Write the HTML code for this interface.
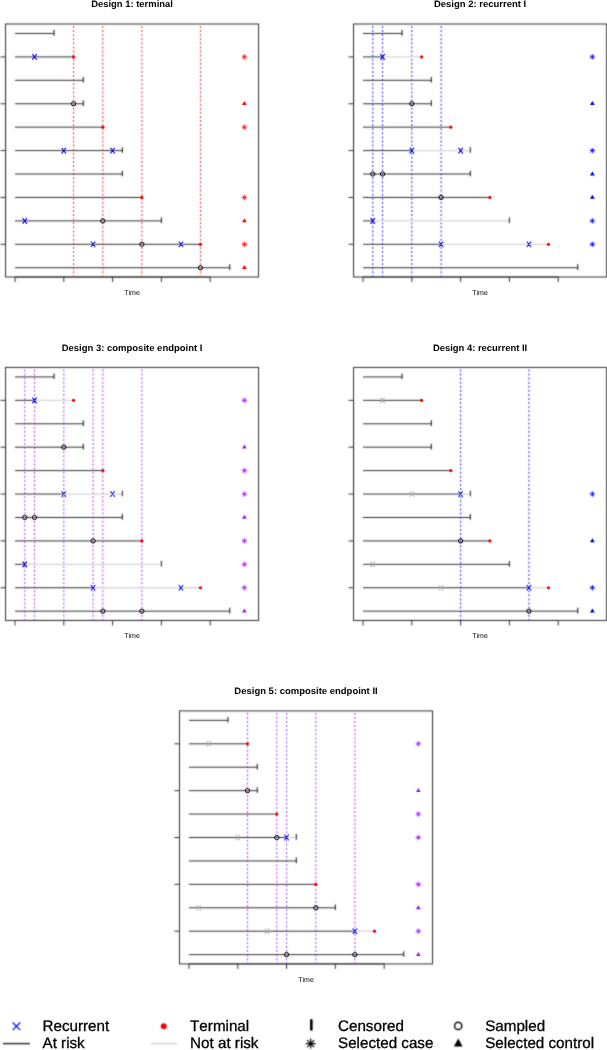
<!DOCTYPE html>
<html><head><meta charset="utf-8"><title>Designs</title>
<style>
html,body{margin:0;padding:0;background:#fff;}
body{width:607px;height:1050px;overflow:hidden;}
svg{display:block;}
.tt{font-family:"Liberation Sans",Arial,sans-serif;font-weight:bold;font-size:9.3px;fill:#000;}
.xl{font-family:"Liberation Sans",Arial,sans-serif;font-size:7.0px;fill:#000;}
.lg{font-family:"Liberation Sans",Arial,sans-serif;font-size:15.2px;fill:#000;stroke:#000;stroke-width:0.3px;}
text{font-kerning:none;text-rendering:geometricPrecision;}
</style></head>
<body>
<svg width="607" height="1050" viewBox="0 0 607 1050">
<defs><filter id="bl" x="0" y="0" width="607" height="1050" filterUnits="userSpaceOnUse"><feConvolveMatrix order="3" kernelMatrix="0.0277 0.1110 0.0277 0.1110 0.4452 0.1110 0.0277 0.1110 0.0277" edgeMode="none" preserveAlpha="false"/></filter><filter id="bm" x="0" y="0" width="607" height="1050" filterUnits="userSpaceOnUse"><feConvolveMatrix order="3" kernelMatrix="0.0052 0.0619 0.0052 0.0619 0.7314 0.0619 0.0052 0.0619 0.0052" edgeMode="none" preserveAlpha="false"/></filter></defs>
<rect width="607" height="1050" fill="#fff"/>
<g filter="url(#bl)">
<rect x="5.55" y="24" width="253" height="253" fill="none" stroke="#333" stroke-width="1.0"/>
<path d="M15 277H210.22M15 277v5M63.8 277v5M112.61 277v5M161.41 277v5M210.22 277v5" stroke="#333" stroke-width="1.0" fill="none"/>
<path d="M5.55 56.9V244.3M5.55 56.9h-5M5.55 103.75h-5M5.55 150.6h-5M5.55 197.45h-5M5.55 244.3h-5" stroke="#333" stroke-width="1.0" fill="none"/>
<path d="M73.57 25.95V277" stroke="#ff0000" stroke-width="1.1" stroke-dasharray="2.0 2.09" opacity="0.78"/>
<path d="M102.85 25.95V277" stroke="#ff0000" stroke-width="1.1" stroke-dasharray="2.0 2.09" opacity="0.78"/>
<path d="M141.89 25.95V277" stroke="#ff0000" stroke-width="1.1" stroke-dasharray="2.0 2.09" opacity="0.78"/>
<path d="M200.46 25.95V277" stroke="#ff0000" stroke-width="1.1" stroke-dasharray="2.0 2.09" opacity="0.78"/>
<path d="M15 33.47H54.04" stroke="#333" stroke-width="1.0"/>
<path d="M54.04 30.07V35.67" stroke="#333" stroke-width="1.2"/>
<path d="M15 56.9H73.57" stroke="#333" stroke-width="1.0"/>
<path d="M15 80.32H83.33" stroke="#333" stroke-width="1.0"/>
<path d="M83.33 76.92V82.52" stroke="#333" stroke-width="1.2"/>
<path d="M15 103.75H83.33" stroke="#333" stroke-width="1.0"/>
<path d="M83.33 100.35V105.95" stroke="#333" stroke-width="1.2"/>
<path d="M15 127.17H102.85" stroke="#333" stroke-width="1.0"/>
<path d="M15 150.6H122.37" stroke="#333" stroke-width="1.0"/>
<path d="M122.37 147.2V152.8" stroke="#333" stroke-width="1.2"/>
<path d="M15 174.03H122.37" stroke="#333" stroke-width="1.0"/>
<path d="M122.37 170.63V176.23" stroke="#333" stroke-width="1.2"/>
<path d="M15 197.45H141.89" stroke="#333" stroke-width="1.0"/>
<path d="M15 220.88H161.41" stroke="#333" stroke-width="1.0"/>
<path d="M161.41 217.48V223.08" stroke="#333" stroke-width="1.2"/>
<path d="M15 244.3H200.46" stroke="#333" stroke-width="1.0"/>
<path d="M15 267.73H229.74" stroke="#333" stroke-width="1.0"/>
<path d="M229.74 264.33V269.93" stroke="#333" stroke-width="1.2"/>
<rect x="353.55" y="24" width="253" height="253" fill="none" stroke="#333" stroke-width="1.0"/>
<path d="M363 277H558.22M363 277v5M411.8 277v5M460.61 277v5M509.41 277v5M558.22 277v5" stroke="#333" stroke-width="1.0" fill="none"/>
<path d="M353.55 56.9V244.3M353.55 56.9h-5M353.55 103.75h-5M353.55 150.6h-5M353.55 197.45h-5M353.55 244.3h-5" stroke="#333" stroke-width="1.0" fill="none"/>
<path d="M372.76 25.95V277" stroke="#0000ff" stroke-width="1.1" stroke-dasharray="2.0 2.09" opacity="0.78"/>
<path d="M382.52 25.95V277" stroke="#0000ff" stroke-width="1.1" stroke-dasharray="2.0 2.09" opacity="0.78"/>
<path d="M411.8 25.95V277" stroke="#0000ff" stroke-width="1.1" stroke-dasharray="2.0 2.09" opacity="0.78"/>
<path d="M441.09 25.95V277" stroke="#0000ff" stroke-width="1.1" stroke-dasharray="2.0 2.09" opacity="0.78"/>
<path d="M363 33.47H402.04" stroke="#333" stroke-width="1.0"/>
<path d="M402.04 30.07V35.67" stroke="#333" stroke-width="1.2"/>
<path d="M363 56.9H382.52" stroke="#333" stroke-width="1.0"/>
<path d="M382.52 56.9H421.57" stroke="#d6d6d6" stroke-width="1.3"/>
<path d="M363 80.32H431.33" stroke="#333" stroke-width="1.0"/>
<path d="M431.33 76.92V82.52" stroke="#333" stroke-width="1.2"/>
<path d="M363 103.75H431.33" stroke="#333" stroke-width="1.0"/>
<path d="M431.33 100.35V105.95" stroke="#333" stroke-width="1.2"/>
<path d="M363 127.17H450.85" stroke="#333" stroke-width="1.0"/>
<path d="M363 150.6H411.8" stroke="#333" stroke-width="1.0"/>
<path d="M411.8 150.6H470.37" stroke="#d6d6d6" stroke-width="1.3"/>
<path d="M470.37 147.2V152.8" stroke="#333" stroke-width="1.2"/>
<path d="M363 174.03H470.37" stroke="#333" stroke-width="1.0"/>
<path d="M470.37 170.63V176.23" stroke="#333" stroke-width="1.2"/>
<path d="M363 197.45H489.89" stroke="#333" stroke-width="1.0"/>
<path d="M363 220.88H372.76" stroke="#333" stroke-width="1.0"/>
<path d="M372.76 220.88H509.41" stroke="#d6d6d6" stroke-width="1.3"/>
<path d="M509.41 217.48V223.08" stroke="#333" stroke-width="1.2"/>
<path d="M363 244.3H441.09" stroke="#333" stroke-width="1.0"/>
<path d="M441.09 244.3H548.46" stroke="#d6d6d6" stroke-width="1.3"/>
<path d="M363 267.73H577.74" stroke="#333" stroke-width="1.0"/>
<path d="M577.74 264.33V269.93" stroke="#333" stroke-width="1.2"/>
<rect x="5.55" y="367.45" width="253" height="253" fill="none" stroke="#333" stroke-width="1.0"/>
<path d="M15 620.45H210.22M15 620.45v5M63.8 620.45v5M112.61 620.45v5M161.41 620.45v5M210.22 620.45v5" stroke="#333" stroke-width="1.0" fill="none"/>
<path d="M5.55 400.35V587.75M5.55 400.35h-5M5.55 447.2h-5M5.55 494.05h-5M5.55 540.9h-5M5.55 587.75h-5" stroke="#333" stroke-width="1.0" fill="none"/>
<path d="M24.76 369.4V620.45" stroke="#a020f0" stroke-width="1.1" stroke-dasharray="2.0 2.09" opacity="0.78"/>
<path d="M34.52 369.4V620.45" stroke="#a020f0" stroke-width="1.1" stroke-dasharray="2.0 2.09" opacity="0.78"/>
<path d="M63.8 369.4V620.45" stroke="#a020f0" stroke-width="1.1" stroke-dasharray="2.0 2.09" opacity="0.78"/>
<path d="M93.09 369.4V620.45" stroke="#a020f0" stroke-width="1.1" stroke-dasharray="2.0 2.09" opacity="0.78"/>
<path d="M102.85 369.4V620.45" stroke="#a020f0" stroke-width="1.1" stroke-dasharray="2.0 2.09" opacity="0.78"/>
<path d="M141.89 369.4V620.45" stroke="#a020f0" stroke-width="1.1" stroke-dasharray="2.0 2.09" opacity="0.78"/>
<path d="M15 376.92H54.04" stroke="#333" stroke-width="1.0"/>
<path d="M54.04 373.52V379.12" stroke="#333" stroke-width="1.2"/>
<path d="M15 400.35H34.52" stroke="#333" stroke-width="1.0"/>
<path d="M34.52 400.35H73.57" stroke="#d6d6d6" stroke-width="1.3"/>
<path d="M15 423.77H83.33" stroke="#333" stroke-width="1.0"/>
<path d="M83.33 420.37V425.97" stroke="#333" stroke-width="1.2"/>
<path d="M15 447.2H83.33" stroke="#333" stroke-width="1.0"/>
<path d="M83.33 443.8V449.4" stroke="#333" stroke-width="1.2"/>
<path d="M15 470.62H102.85" stroke="#333" stroke-width="1.0"/>
<path d="M15 494.05H63.8" stroke="#333" stroke-width="1.0"/>
<path d="M63.8 494.05H122.37" stroke="#d6d6d6" stroke-width="1.3"/>
<path d="M122.37 490.65V496.25" stroke="#333" stroke-width="1.2"/>
<path d="M15 517.48H122.37" stroke="#333" stroke-width="1.0"/>
<path d="M122.37 514.08V519.68" stroke="#333" stroke-width="1.2"/>
<path d="M15 540.9H141.89" stroke="#333" stroke-width="1.0"/>
<path d="M15 564.33H24.76" stroke="#333" stroke-width="1.0"/>
<path d="M24.76 564.33H161.41" stroke="#d6d6d6" stroke-width="1.3"/>
<path d="M161.41 560.93V566.53" stroke="#333" stroke-width="1.2"/>
<path d="M15 587.75H93.09" stroke="#333" stroke-width="1.0"/>
<path d="M93.09 587.75H200.46" stroke="#d6d6d6" stroke-width="1.3"/>
<path d="M15 611.18H229.74" stroke="#333" stroke-width="1.0"/>
<path d="M229.74 607.78V613.38" stroke="#333" stroke-width="1.2"/>
<rect x="353.55" y="367.45" width="253" height="253" fill="none" stroke="#333" stroke-width="1.0"/>
<path d="M363 620.45H558.22M363 620.45v5M411.8 620.45v5M460.61 620.45v5M509.41 620.45v5M558.22 620.45v5" stroke="#333" stroke-width="1.0" fill="none"/>
<path d="M353.55 400.35V587.75M353.55 400.35h-5M353.55 447.2h-5M353.55 494.05h-5M353.55 540.9h-5M353.55 587.75h-5" stroke="#333" stroke-width="1.0" fill="none"/>
<path d="M460.61 369.4V620.45" stroke="#0000ff" stroke-width="1.1" stroke-dasharray="2.0 2.09" opacity="0.78"/>
<path d="M528.93 369.4V620.45" stroke="#0000ff" stroke-width="1.1" stroke-dasharray="2.0 2.09" opacity="0.78"/>
<path d="M363 376.92H402.04" stroke="#333" stroke-width="1.0"/>
<path d="M402.04 373.52V379.12" stroke="#333" stroke-width="1.2"/>
<path d="M363 400.35H421.57" stroke="#333" stroke-width="1.0"/>
<path d="M363 423.77H431.33" stroke="#333" stroke-width="1.0"/>
<path d="M431.33 420.37V425.97" stroke="#333" stroke-width="1.2"/>
<path d="M363 447.2H431.33" stroke="#333" stroke-width="1.0"/>
<path d="M431.33 443.8V449.4" stroke="#333" stroke-width="1.2"/>
<path d="M363 470.62H450.85" stroke="#333" stroke-width="1.0"/>
<path d="M363 494.05H460.61" stroke="#333" stroke-width="1.0"/>
<path d="M460.61 494.05H470.37" stroke="#d6d6d6" stroke-width="1.3"/>
<path d="M470.37 490.65V496.25" stroke="#333" stroke-width="1.2"/>
<path d="M363 517.48H470.37" stroke="#333" stroke-width="1.0"/>
<path d="M470.37 514.08V519.68" stroke="#333" stroke-width="1.2"/>
<path d="M363 540.9H489.89" stroke="#333" stroke-width="1.0"/>
<path d="M363 564.33H509.41" stroke="#333" stroke-width="1.0"/>
<path d="M509.41 560.93V566.53" stroke="#333" stroke-width="1.2"/>
<path d="M363 587.75H528.93" stroke="#333" stroke-width="1.0"/>
<path d="M528.93 587.75H548.46" stroke="#d6d6d6" stroke-width="1.3"/>
<path d="M363 611.18H577.74" stroke="#333" stroke-width="1.0"/>
<path d="M577.74 607.78V613.38" stroke="#333" stroke-width="1.2"/>
<rect x="179.5" y="710.9" width="253" height="253" fill="none" stroke="#333" stroke-width="1.0"/>
<path d="M188.95 963.9H384.17M188.95 963.9v5M237.75 963.9v5M286.56 963.9v5M335.36 963.9v5M384.17 963.9v5" stroke="#333" stroke-width="1.0" fill="none"/>
<path d="M179.5 743.8V931.2M179.5 743.8h-5M179.5 790.65h-5M179.5 837.5h-5M179.5 884.35h-5M179.5 931.2h-5" stroke="#333" stroke-width="1.0" fill="none"/>
<path d="M247.52 712.85V963.9" stroke="#a020f0" stroke-width="1.1" stroke-dasharray="2.0 2.09" opacity="0.78"/>
<path d="M276.8 712.85V963.9" stroke="#a020f0" stroke-width="1.1" stroke-dasharray="2.0 2.09" opacity="0.78"/>
<path d="M286.56 712.85V963.9" stroke="#a020f0" stroke-width="1.1" stroke-dasharray="2.0 2.09" opacity="0.78"/>
<path d="M315.84 712.85V963.9" stroke="#a020f0" stroke-width="1.1" stroke-dasharray="2.0 2.09" opacity="0.78"/>
<path d="M354.88 712.85V963.9" stroke="#a020f0" stroke-width="1.1" stroke-dasharray="2.0 2.09" opacity="0.78"/>
<path d="M188.95 720.37H227.99" stroke="#333" stroke-width="1.0"/>
<path d="M227.99 716.97V722.57" stroke="#333" stroke-width="1.2"/>
<path d="M188.95 743.8H247.52" stroke="#333" stroke-width="1.0"/>
<path d="M188.95 767.22H257.28" stroke="#333" stroke-width="1.0"/>
<path d="M257.28 763.82V769.42" stroke="#333" stroke-width="1.2"/>
<path d="M188.95 790.65H257.28" stroke="#333" stroke-width="1.0"/>
<path d="M257.28 787.25V792.85" stroke="#333" stroke-width="1.2"/>
<path d="M188.95 814.07H276.8" stroke="#333" stroke-width="1.0"/>
<path d="M188.95 837.5H286.56" stroke="#333" stroke-width="1.0"/>
<path d="M286.56 837.5H296.32" stroke="#d6d6d6" stroke-width="1.3"/>
<path d="M296.32 834.1V839.7" stroke="#333" stroke-width="1.2"/>
<path d="M188.95 860.93H296.32" stroke="#333" stroke-width="1.0"/>
<path d="M296.32 857.53V863.13" stroke="#333" stroke-width="1.2"/>
<path d="M188.95 884.35H315.84" stroke="#333" stroke-width="1.0"/>
<path d="M188.95 907.78H335.36" stroke="#333" stroke-width="1.0"/>
<path d="M335.36 904.38V909.98" stroke="#333" stroke-width="1.2"/>
<path d="M188.95 931.2H354.88" stroke="#333" stroke-width="1.0"/>
<path d="M354.88 931.2H374.41" stroke="#d6d6d6" stroke-width="1.3"/>
<path d="M188.95 954.63H403.69" stroke="#333" stroke-width="1.0"/>
<path d="M403.69 951.23V956.83" stroke="#333" stroke-width="1.2"/>
<path d="M16.45 1026.3m-3.8 -3.8l7.6 7.6m0 -7.6l-7.6 7.6" stroke="#0000ff" stroke-width="1.15" fill="none"/>
<path d="M2.9 1043.6H30" stroke="#333" stroke-width="1.5"/>
<circle cx="163.75" cy="1026.3" r="3.0" fill="#ff0000"/>
<path d="M150.7 1043.6H176.9" stroke="#d6d6d6" stroke-width="1.5"/>
<path d="M311.35 1020.4V1029.4" stroke="#000" stroke-width="2.6" stroke-linecap="round"/>
<path d="M305.7 1043.6L315.7 1043.6M307.16 1040.06L314.24 1047.14M310.7 1038.6L310.7 1048.6M314.24 1040.06L307.16 1047.14" stroke="#000" stroke-width="1.2" fill="none"/>
<circle cx="458.2" cy="1025.9" r="3.6" fill="none" stroke="#111" stroke-width="1.5"/>
<path d="M458.25 1038.6L462.6 1046.5L453.9 1046.5Z" fill="#000"/>
</g>
<g filter="url(#bm)">
<path d="M32.57 54.4L36.47 59.4M32.57 59.4L36.47 54.4" stroke="#0000ff" stroke-width="1.05" stroke-linecap="round" fill="none"/>
<circle cx="73.57" cy="56.9" r="1.6" fill="#ff0000"/>
<path d="M241.63 56.9L247.13 56.9M242.43 54.95L246.32 58.84M244.38 54.15L244.38 59.65M246.32 54.95L242.43 58.84" stroke="#ff0000" stroke-width="0.8" fill="none"/>
<circle cx="73.57" cy="103.75" r="2.15" fill="none" stroke="#000" stroke-width="1.0"/>
<path d="M244.38 101.1L246.83 105.1L241.93 105.1Z" fill="#ff0000"/>
<circle cx="102.85" cy="127.17" r="1.6" fill="#ff0000"/>
<path d="M241.63 127.17L247.13 127.17M242.43 125.23L246.32 129.12M244.38 124.42L244.38 129.92M246.32 125.23L242.43 129.12" stroke="#ff0000" stroke-width="0.8" fill="none"/>
<path d="M61.85 148.1L65.75 153.1M61.85 153.1L65.75 148.1" stroke="#0000ff" stroke-width="1.05" stroke-linecap="round" fill="none"/>
<path d="M110.66 148.1L114.56 153.1M110.66 153.1L114.56 148.1" stroke="#0000ff" stroke-width="1.05" stroke-linecap="round" fill="none"/>
<circle cx="141.89" cy="197.45" r="1.6" fill="#ff0000"/>
<path d="M241.63 197.45L247.13 197.45M242.43 195.51L246.32 199.4M244.38 194.7L244.38 200.2M246.32 195.51L242.43 199.4" stroke="#ff0000" stroke-width="0.8" fill="none"/>
<circle cx="102.85" cy="220.88" r="2.15" fill="none" stroke="#000" stroke-width="1.0"/>
<path d="M22.81 218.38L26.71 223.38M22.81 223.38L26.71 218.38" stroke="#0000ff" stroke-width="1.05" stroke-linecap="round" fill="none"/>
<path d="M244.38 218.23L246.83 222.23L241.93 222.23Z" fill="#ff0000"/>
<circle cx="141.89" cy="244.3" r="2.15" fill="none" stroke="#000" stroke-width="1.0"/>
<path d="M91.14 241.8L95.04 246.8M91.14 246.8L95.04 241.8" stroke="#0000ff" stroke-width="1.05" stroke-linecap="round" fill="none"/>
<path d="M178.98 241.8L182.88 246.8M178.98 246.8L182.88 241.8" stroke="#0000ff" stroke-width="1.05" stroke-linecap="round" fill="none"/>
<circle cx="200.46" cy="244.3" r="1.6" fill="#ff0000"/>
<path d="M241.63 244.3L247.13 244.3M242.43 242.36L246.32 246.25M244.38 241.55L244.38 247.05M246.32 242.36L242.43 246.25" stroke="#ff0000" stroke-width="0.8" fill="none"/>
<circle cx="200.46" cy="267.73" r="2.15" fill="none" stroke="#000" stroke-width="1.0"/>
<path d="M244.38 265.08L246.83 269.08L241.93 269.08Z" fill="#ff0000"/>
<path d="M380.57 54.4L384.47 59.4M380.57 59.4L384.47 54.4" stroke="#0000ff" stroke-width="1.05" stroke-linecap="round" fill="none"/>
<circle cx="421.57" cy="56.9" r="1.6" fill="#ff0000"/>
<path d="M589.63 56.9L595.13 56.9M590.43 54.95L594.32 58.84M592.38 54.15L592.38 59.65M594.32 54.95L590.43 58.84" stroke="#0000ff" stroke-width="0.8" fill="none"/>
<circle cx="411.8" cy="103.75" r="2.15" fill="none" stroke="#000" stroke-width="1.0"/>
<path d="M592.38 101.1L594.83 105.1L589.93 105.1Z" fill="#0000ff"/>
<circle cx="450.85" cy="127.17" r="1.6" fill="#ff0000"/>
<path d="M409.85 148.1L413.75 153.1M409.85 153.1L413.75 148.1" stroke="#0000ff" stroke-width="1.05" stroke-linecap="round" fill="none"/>
<path d="M458.66 148.1L462.56 153.1M458.66 153.1L462.56 148.1" stroke="#0000ff" stroke-width="1.05" stroke-linecap="round" fill="none"/>
<path d="M589.63 150.6L595.13 150.6M590.43 148.66L594.32 152.54M592.38 147.85L592.38 153.35M594.32 148.66L590.43 152.54" stroke="#0000ff" stroke-width="0.8" fill="none"/>
<circle cx="372.76" cy="174.03" r="2.15" fill="none" stroke="#000" stroke-width="1.0"/>
<circle cx="382.52" cy="174.03" r="2.15" fill="none" stroke="#000" stroke-width="1.0"/>
<path d="M592.38 171.38L594.83 175.38L589.93 175.38Z" fill="#0000ff"/>
<circle cx="441.09" cy="197.45" r="2.15" fill="none" stroke="#000" stroke-width="1.0"/>
<circle cx="489.89" cy="197.45" r="1.6" fill="#ff0000"/>
<path d="M592.38 194.8L594.83 198.8L589.93 198.8Z" fill="#0000ff"/>
<path d="M370.81 218.38L374.71 223.38M370.81 223.38L374.71 218.38" stroke="#0000ff" stroke-width="1.05" stroke-linecap="round" fill="none"/>
<path d="M589.63 220.88L595.13 220.88M590.43 218.93L594.32 222.82M592.38 218.13L592.38 223.63M594.32 218.93L590.43 222.82" stroke="#0000ff" stroke-width="0.8" fill="none"/>
<path d="M439.14 241.8L443.04 246.8M439.14 246.8L443.04 241.8" stroke="#0000ff" stroke-width="1.05" stroke-linecap="round" fill="none"/>
<path d="M526.98 241.8L530.88 246.8M526.98 246.8L530.88 241.8" stroke="#0000ff" stroke-width="1.05" stroke-linecap="round" fill="none"/>
<circle cx="548.46" cy="244.3" r="1.6" fill="#ff0000"/>
<path d="M589.63 244.3L595.13 244.3M590.43 242.36L594.32 246.25M592.38 241.55L592.38 247.05M594.32 242.36L590.43 246.25" stroke="#0000ff" stroke-width="0.8" fill="none"/>
<path d="M32.57 397.85L36.47 402.85M32.57 402.85L36.47 397.85" stroke="#0000ff" stroke-width="1.05" stroke-linecap="round" fill="none"/>
<circle cx="73.57" cy="400.35" r="1.6" fill="#ff0000"/>
<path d="M241.63 400.35L247.13 400.35M242.43 398.4L246.32 402.29M244.38 397.6L244.38 403.1M246.32 398.4L242.43 402.29" stroke="#a020f0" stroke-width="0.8" fill="none"/>
<circle cx="63.8" cy="447.2" r="2.15" fill="none" stroke="#000" stroke-width="1.0"/>
<path d="M244.38 444.55L246.83 448.55L241.93 448.55Z" fill="#a020f0"/>
<circle cx="102.85" cy="470.62" r="1.6" fill="#ff0000"/>
<path d="M241.63 470.62L247.13 470.62M242.43 468.68L246.32 472.57M244.38 467.87L244.38 473.37M246.32 468.68L242.43 472.57" stroke="#a020f0" stroke-width="0.8" fill="none"/>
<path d="M61.85 491.55L65.75 496.55M61.85 496.55L65.75 491.55" stroke="#0000ff" stroke-width="1.05" stroke-linecap="round" fill="none"/>
<path d="M110.66 491.55L114.56 496.55M110.66 496.55L114.56 491.55" stroke="#0000ff" stroke-width="1.05" stroke-linecap="round" fill="none"/>
<path d="M241.63 494.05L247.13 494.05M242.43 492.11L246.32 495.99M244.38 491.3L244.38 496.8M246.32 492.11L242.43 495.99" stroke="#a020f0" stroke-width="0.8" fill="none"/>
<circle cx="24.76" cy="517.48" r="2.15" fill="none" stroke="#000" stroke-width="1.0"/>
<circle cx="34.52" cy="517.48" r="2.15" fill="none" stroke="#000" stroke-width="1.0"/>
<path d="M244.38 514.83L246.83 518.83L241.93 518.83Z" fill="#a020f0"/>
<circle cx="93.09" cy="540.9" r="2.15" fill="none" stroke="#000" stroke-width="1.0"/>
<circle cx="141.89" cy="540.9" r="1.6" fill="#ff0000"/>
<path d="M241.63 540.9L247.13 540.9M242.43 538.96L246.32 542.85M244.38 538.15L244.38 543.65M246.32 538.96L242.43 542.85" stroke="#a020f0" stroke-width="0.8" fill="none"/>
<path d="M22.81 561.83L26.71 566.83M22.81 566.83L26.71 561.83" stroke="#0000ff" stroke-width="1.05" stroke-linecap="round" fill="none"/>
<path d="M241.63 564.33L247.13 564.33M242.43 562.38L246.32 566.27M244.38 561.58L244.38 567.08M246.32 562.38L242.43 566.27" stroke="#a020f0" stroke-width="0.8" fill="none"/>
<path d="M91.14 585.25L95.04 590.25M91.14 590.25L95.04 585.25" stroke="#0000ff" stroke-width="1.05" stroke-linecap="round" fill="none"/>
<path d="M178.98 585.25L182.88 590.25M178.98 590.25L182.88 585.25" stroke="#0000ff" stroke-width="1.05" stroke-linecap="round" fill="none"/>
<circle cx="200.46" cy="587.75" r="1.6" fill="#ff0000"/>
<path d="M241.63 587.75L247.13 587.75M242.43 585.81L246.32 589.7M244.38 585L244.38 590.5M246.32 585.81L242.43 589.7" stroke="#a020f0" stroke-width="0.8" fill="none"/>
<circle cx="102.85" cy="611.18" r="2.15" fill="none" stroke="#000" stroke-width="1.0"/>
<circle cx="141.89" cy="611.18" r="2.15" fill="none" stroke="#000" stroke-width="1.0"/>
<path d="M244.38 608.53L246.83 612.53L241.93 612.53Z" fill="#a020f0"/>
<path d="M380.57 397.85L384.47 402.85M380.57 402.85L384.47 397.85" stroke="#b4b4b4" stroke-width="1.05" stroke-linecap="round" fill="none"/>
<circle cx="421.57" cy="400.35" r="1.6" fill="#ff0000"/>
<circle cx="450.85" cy="470.62" r="1.6" fill="#ff0000"/>
<path d="M409.85 491.55L413.75 496.55M409.85 496.55L413.75 491.55" stroke="#b4b4b4" stroke-width="1.05" stroke-linecap="round" fill="none"/>
<path d="M458.66 491.55L462.56 496.55M458.66 496.55L462.56 491.55" stroke="#0000ff" stroke-width="1.05" stroke-linecap="round" fill="none"/>
<path d="M589.63 494.05L595.13 494.05M590.43 492.11L594.32 495.99M592.38 491.3L592.38 496.8M594.32 492.11L590.43 495.99" stroke="#0000ff" stroke-width="0.8" fill="none"/>
<circle cx="460.61" cy="540.9" r="2.15" fill="none" stroke="#000" stroke-width="1.0"/>
<circle cx="489.89" cy="540.9" r="1.6" fill="#ff0000"/>
<path d="M592.38 538.25L594.83 542.25L589.93 542.25Z" fill="#0000ff"/>
<path d="M370.81 561.83L374.71 566.83M370.81 566.83L374.71 561.83" stroke="#b4b4b4" stroke-width="1.05" stroke-linecap="round" fill="none"/>
<path d="M439.14 585.25L443.04 590.25M439.14 590.25L443.04 585.25" stroke="#b4b4b4" stroke-width="1.05" stroke-linecap="round" fill="none"/>
<path d="M526.98 585.25L530.88 590.25M526.98 590.25L530.88 585.25" stroke="#0000ff" stroke-width="1.05" stroke-linecap="round" fill="none"/>
<circle cx="548.46" cy="587.75" r="1.6" fill="#ff0000"/>
<path d="M589.63 587.75L595.13 587.75M590.43 585.81L594.32 589.7M592.38 585L592.38 590.5M594.32 585.81L590.43 589.7" stroke="#0000ff" stroke-width="0.8" fill="none"/>
<circle cx="528.93" cy="611.18" r="2.15" fill="none" stroke="#000" stroke-width="1.0"/>
<path d="M592.38 608.53L594.83 612.53L589.93 612.53Z" fill="#0000ff"/>
<path d="M206.52 741.3L210.42 746.3M206.52 746.3L210.42 741.3" stroke="#b4b4b4" stroke-width="1.05" stroke-linecap="round" fill="none"/>
<circle cx="247.52" cy="743.8" r="1.6" fill="#ff0000"/>
<path d="M415.58 743.8L421.08 743.8M416.38 741.85L420.27 745.74M418.33 741.05L418.33 746.55M420.27 741.85L416.38 745.74" stroke="#a020f0" stroke-width="0.8" fill="none"/>
<circle cx="247.52" cy="790.65" r="2.15" fill="none" stroke="#000" stroke-width="1.0"/>
<path d="M418.33 788L420.78 792L415.88 792Z" fill="#a020f0"/>
<circle cx="276.8" cy="814.07" r="1.6" fill="#ff0000"/>
<path d="M415.58 814.07L421.08 814.07M416.38 812.13L420.27 816.02M418.33 811.32L418.33 816.82M420.27 812.13L416.38 816.02" stroke="#a020f0" stroke-width="0.8" fill="none"/>
<circle cx="276.8" cy="837.5" r="2.15" fill="none" stroke="#000" stroke-width="1.0"/>
<path d="M235.8 835L239.7 840M235.8 840L239.7 835" stroke="#b4b4b4" stroke-width="1.05" stroke-linecap="round" fill="none"/>
<path d="M284.61 835L288.51 840M284.61 840L288.51 835" stroke="#0000ff" stroke-width="1.05" stroke-linecap="round" fill="none"/>
<path d="M415.58 837.5L421.08 837.5M416.38 835.56L420.27 839.44M418.33 834.75L418.33 840.25M420.27 835.56L416.38 839.44" stroke="#a020f0" stroke-width="0.8" fill="none"/>
<circle cx="315.84" cy="884.35" r="1.6" fill="#ff0000"/>
<path d="M415.58 884.35L421.08 884.35M416.38 882.41L420.27 886.3M418.33 881.6L418.33 887.1M420.27 882.41L416.38 886.3" stroke="#a020f0" stroke-width="0.8" fill="none"/>
<circle cx="315.84" cy="907.78" r="2.15" fill="none" stroke="#000" stroke-width="1.0"/>
<path d="M196.76 905.28L200.66 910.28M196.76 910.28L200.66 905.28" stroke="#b4b4b4" stroke-width="1.05" stroke-linecap="round" fill="none"/>
<path d="M418.33 905.13L420.78 909.13L415.88 909.13Z" fill="#a020f0"/>
<path d="M265.09 928.7L268.99 933.7M265.09 933.7L268.99 928.7" stroke="#b4b4b4" stroke-width="1.05" stroke-linecap="round" fill="none"/>
<path d="M352.93 928.7L356.83 933.7M352.93 933.7L356.83 928.7" stroke="#0000ff" stroke-width="1.05" stroke-linecap="round" fill="none"/>
<circle cx="374.41" cy="931.2" r="1.6" fill="#ff0000"/>
<path d="M415.58 931.2L421.08 931.2M416.38 929.26L420.27 933.15M418.33 928.45L418.33 933.95M420.27 929.26L416.38 933.15" stroke="#a020f0" stroke-width="0.8" fill="none"/>
<circle cx="286.56" cy="954.63" r="2.15" fill="none" stroke="#000" stroke-width="1.0"/>
<circle cx="354.88" cy="954.63" r="2.15" fill="none" stroke="#000" stroke-width="1.0"/>
<path d="M418.33 951.98L420.78 955.98L415.88 955.98Z" fill="#a020f0"/>
</g>
<text transform="translate(132.05 7.05) scale(1 1.0)" x="0" y="0" class="tt" text-anchor="middle" textLength="81.7" lengthAdjust="spacingAndGlyphs">Design 1: terminal</text>
<text x="132.05" y="295" class="xl" text-anchor="middle">Time</text>
<text transform="translate(480.05 7.05) scale(1 1.0)" x="0" y="0" class="tt" text-anchor="middle" textLength="92.1" lengthAdjust="spacingAndGlyphs">Design 2: recurrent I</text>
<text x="480.05" y="295" class="xl" text-anchor="middle">Time</text>
<text transform="translate(132.05 350.5) scale(1 1.0)" x="0" y="0" class="tt" text-anchor="middle" textLength="140.8" lengthAdjust="spacingAndGlyphs">Design 3: composite endpoint I</text>
<text x="132.05" y="638.45" class="xl" text-anchor="middle">Time</text>
<text transform="translate(480.05 350.5) scale(1 1.0)" x="0" y="0" class="tt" text-anchor="middle" textLength="94.2" lengthAdjust="spacingAndGlyphs">Design 4: recurrent II</text>
<text x="480.05" y="638.45" class="xl" text-anchor="middle">Time</text>
<text transform="translate(306 693.95) scale(1 1.0)" x="0" y="0" class="tt" text-anchor="middle" textLength="143.3" lengthAdjust="spacingAndGlyphs">Design 5: composite endpoint II</text>
<text x="306" y="981.9" class="xl" text-anchor="middle">Time</text>
<text x="42.5" y="1030.8" class="lg">Recurrent</text>
<text x="190.1" y="1030.8" class="lg">Terminal</text>
<text x="338.0" y="1030.8" class="lg">Censored</text>
<text x="485.2" y="1030.8" class="lg">Sampled</text>
<text x="42.5" y="1048.2" class="lg">At risk</text>
<text x="190.1" y="1048.2" class="lg">Not at risk</text>
<text x="338.0" y="1048.2" class="lg">Selected case</text>
<text x="485.2" y="1048.2" class="lg">Selected control</text>
</svg>
</body></html>
